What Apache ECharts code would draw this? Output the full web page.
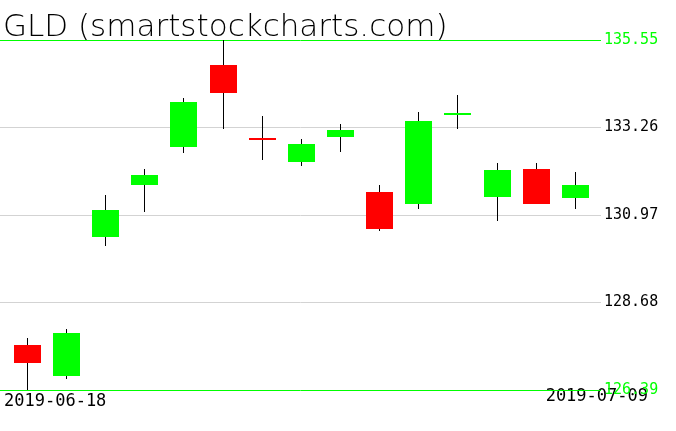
<!DOCTYPE html>
<html>
<head>
<meta charset="utf-8">
<script src="https://cdn.jsdelivr.net/npm/echarts@6/dist/echarts.min.js"></script>
<style>
html,body{margin:0;padding:0;background:#fff;}
#chart{width:676px;height:431px;}
</style>
</head>
<body>
<div id="chart"></div>
<script>
const titleText = 'GLD (smartstockcharts.com)';
const dates  = ['2019-06-18','2019-06-19','2019-06-20','2019-06-21','2019-06-24','2019-06-25','2019-06-26','2019-06-27','2019-06-28','2019-07-01','2019-07-02','2019-07-03','2019-07-05','2019-07-08','2019-07-09'];
const opens  = [127.58,126.77,130.41,131.76,132.76,134.90,132.98,132.37,133.02,131.58,131.25,133.61,131.45,132.18,131.42];
const closes = [127.11,127.89,131.11,132.01,133.94,134.18,132.96,132.84,133.20,130.61,133.42,133.63,132.16,131.27,131.76];
const lows   = [126.39,126.69,130.17,131.06,132.58,133.22,132.40,132.24,132.61,130.54,131.14,133.22,130.80,131.25,131.13];
const highs  = [127.76,127.99,131.50,132.18,134.04,135.55,133.57,132.97,133.36,131.76,133.66,134.12,132.34,132.34,132.10];
const yTicks = [126.39,128.68,130.97,133.26,135.55];

const UP = '#00ff00', DOWN = '#ff0000', GRID = '#d3d3d3';
const candleData = dates.map((d, i) => [i, opens[i], closes[i], lows[i], highs[i]]);
const yMin = yTicks[0], yMax = yTicks[yTicks.length - 1];

const chart = echarts.init(document.getElementById('chart'), null, {renderer: 'canvas'});
chart.setOption({
  animation: false,
  backgroundColor: '#ffffff',
  grid: {left: 0, right: 75, top: 40, bottom: 41, containLabel: false},
  xAxis: {
    type: 'value', min: -0.682, max: 14.665,
    axisLine: {show: false}, axisTick: {show: false}, axisLabel: {show: false}, splitLine: {show: false}
  },
  yAxis: {
    type: 'value', min: yMin, max: yMax, position: 'right',
    axisLine: {show: false}, axisTick: {show: false}, axisLabel: {show: false}, splitLine: {show: false}
  },
  graphic: [
    {type: 'text', x: 3, y: 28, style: {text: titleText, fill: '#000', font: '200 31px "DejaVu Sans"', verticalAlign: 'middle', align: 'left'}},
    {type: 'text', x: 4, y: 401.5, style: {text: dates[0], fill: '#000', font: '17px "DejaVu Sans Mono"', verticalAlign: 'middle', align: 'left'}},
    {type: 'text', x: 648, y: 396.5, style: {text: dates[dates.length - 1], fill: '#000', font: '17px "DejaVu Sans Mono"', verticalAlign: 'middle', align: 'right'}}
  ],
  series: [{
    type: 'custom',
    data: candleData,
    encode: {x: 0, y: [1, 2, 3, 4]},
    clip: false,
    z: 5,
    renderItem: function (params, api) {
      const x = api.value(0);
      const o = api.value(1), c = api.value(2), l = api.value(3), h = api.value(4);
      const pO = api.coord([x, o]), pC = api.coord([x, c]);
      const pL = api.coord([x, l]), pH = api.coord([x, h]);
      const w = Math.round(api.size([1, 0])[0] * 0.69);
      const color = c >= o ? UP : DOWN;
      const cx = Math.round(pO[0]);
      let top = Math.round(Math.min(pO[1], pC[1]));
      let hgt = Math.round(Math.abs(pO[1] - pC[1]));
      if (hgt < 2) { top = Math.round((pO[1] + pC[1]) / 2 - 1); hgt = 2; }
      return {
        type: 'group',
        children: [
          {type: 'line', shape: {x1: cx + 0.5, y1: Math.round(pL[1]), x2: cx + 0.5, y2: Math.round(pH[1])}, style: {stroke: '#000', lineWidth: 1}},
          {type: 'rect', shape: {x: cx - Math.floor(w / 2), y: top, width: w, height: hgt}, style: {fill: color}}
        ]
      };
    },
    markLine: {
      silent: true,
      symbol: 'none',
      z: 1,
      data: yTicks.map((v, i) => {
        const edge = (i === 0 || i === yTicks.length - 1);
        return {
          yAxis: v,
          lineStyle: {color: edge ? UP : GRID, type: 'solid', width: 1},
          label: {color: edge ? UP : '#000'}
        };
      }),
      label: {
        show: true, position: 'end', distance: 3,
        formatter: p => p.value.toFixed(2),
        fontFamily: 'DejaVu Sans Mono', fontSize: 15,
        padding: [0, 0, 9, 0]
      }
    }
  }]
});
</script>
</body>
</html>
